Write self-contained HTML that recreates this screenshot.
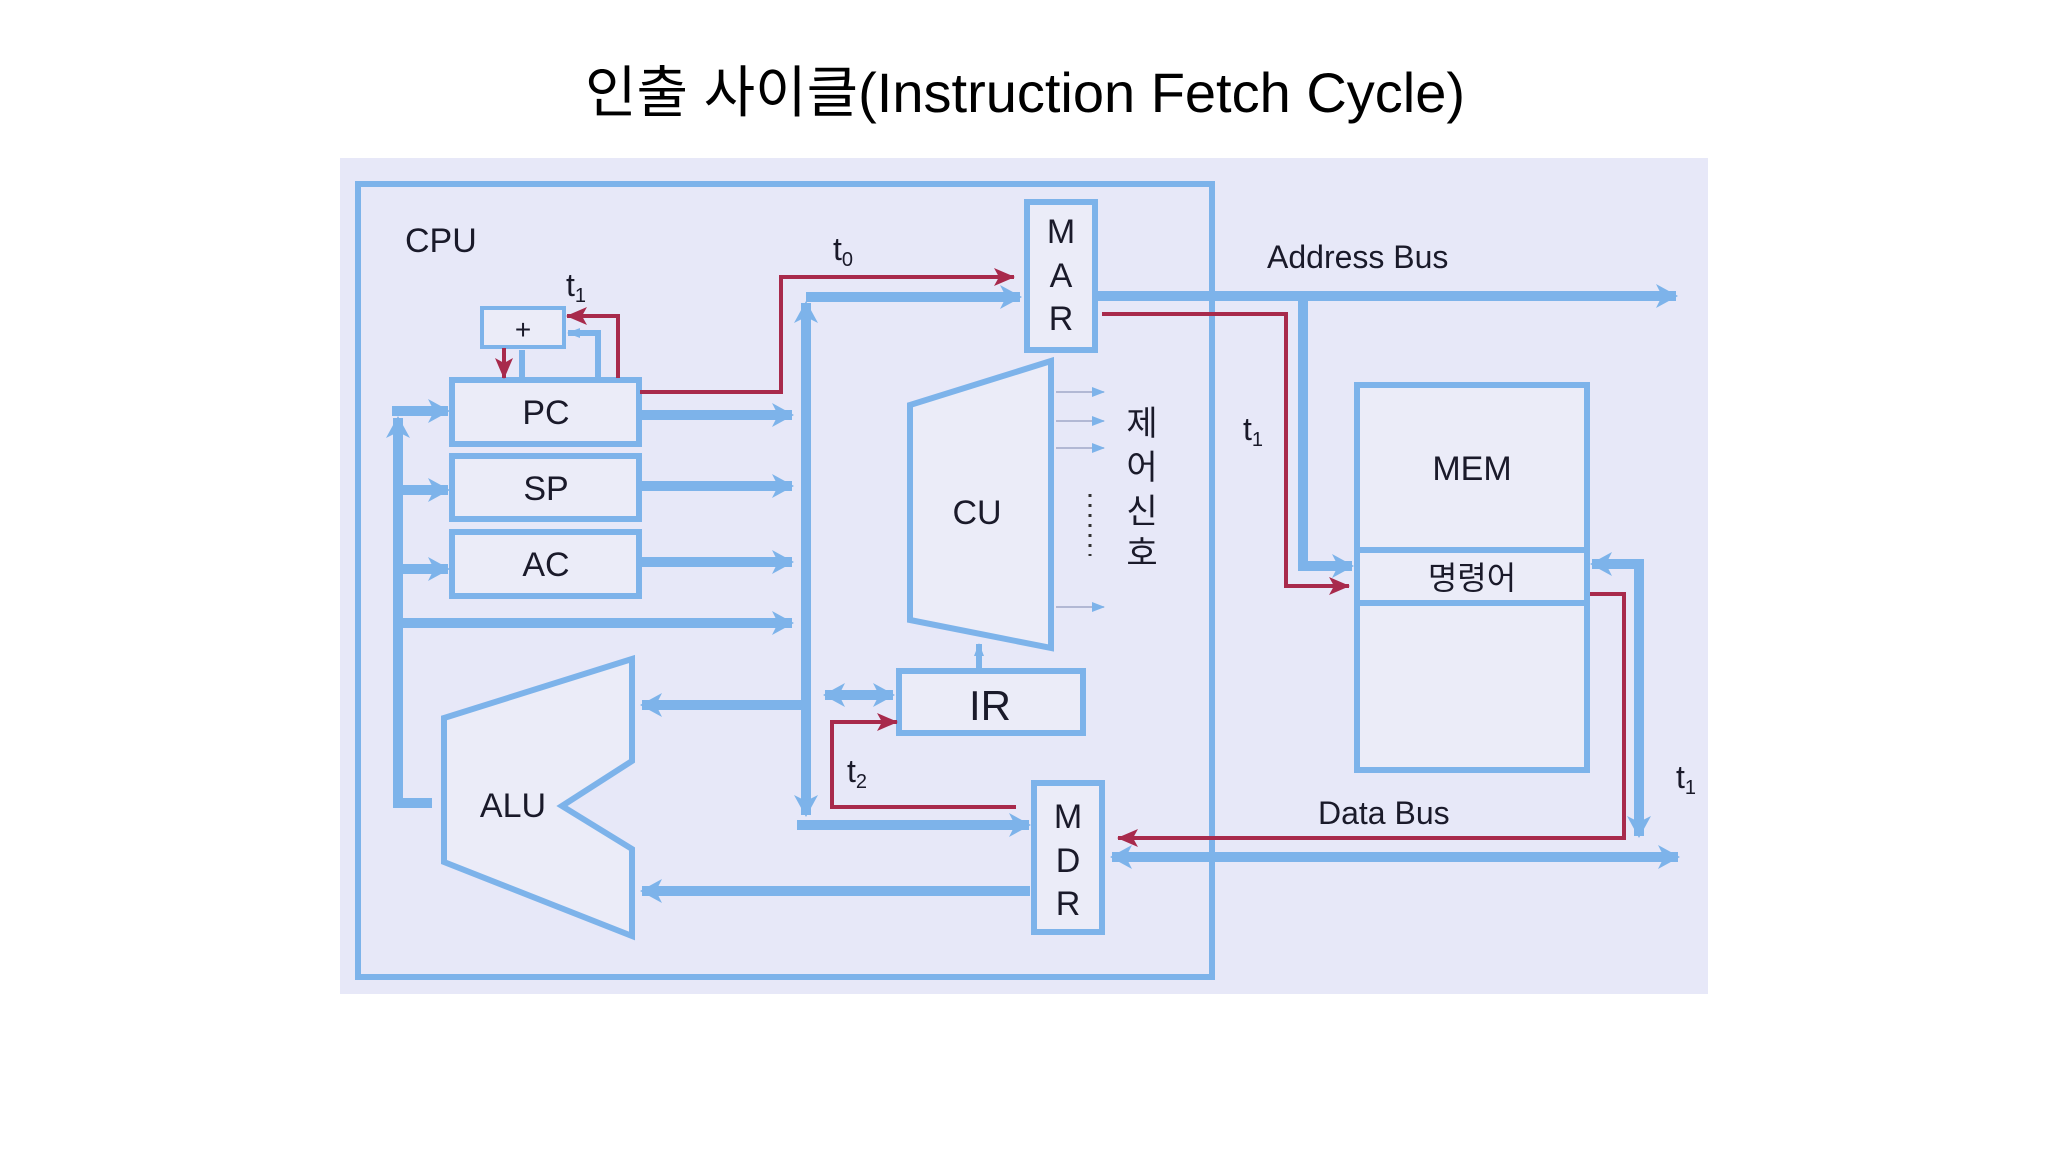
<!DOCTYPE html>
<html><head><meta charset="utf-8"><style>
html,body{margin:0;padding:0;background:#fff;}
svg{display:block}
text{font-family:"Liberation Sans","Noto Sans CJK KR",sans-serif;fill:#1a1a2a}
</style></head><body>
<svg width="2048" height="1152" viewBox="0 0 2048 1152" xmlns="http://www.w3.org/2000/svg">
<defs>
<marker id="ab" markerUnits="userSpaceOnUse" markerWidth="24" markerHeight="26" refX="20" refY="13" orient="auto-start-reverse"><path d="M0,1 L22,13 L0,25 L6,13 Z" fill="#7db3ea"/></marker>
<marker id="as" markerUnits="userSpaceOnUse" markerWidth="14" markerHeight="14" refX="12" refY="7" orient="auto"><path d="M0,2 L13,7 L0,12 Z" fill="#7db3ea"/></marker>
<marker id="ar" markerUnits="userSpaceOnUse" markerWidth="22" markerHeight="20" refX="20" refY="10" orient="auto"><path d="M0,1 L21,10 L0,19 L5,10 Z" fill="#a82a4c"/></marker>
</defs>
<text x="1025" y="112" font-size="56" text-anchor="middle" style="fill:#000">인출 사이클(Instruction Fetch Cycle)</text>
<rect x="340" y="158" width="1368" height="836" fill="#e7e8f8"/>
<rect x="358" y="184" width="854" height="793" fill="none" stroke="#7db3ea" stroke-width="6"/>
<text x="405" y="252" font-size="34">CPU</text>
<g fill="#ebecf8" stroke="#7db3ea" stroke-width="6">
<rect x="1027" y="202" width="68" height="148"/>
<rect x="1034" y="783" width="68" height="149"/>
<rect x="452" y="380" width="187" height="64"/>
<rect x="452" y="456" width="187" height="63"/>
<rect x="452" y="532" width="187" height="64"/>
<rect x="482" y="308" width="82" height="39" stroke-width="4"/>
<path d="M910,405 L1051,361 L1051,648 L910,620 Z"/>
<rect x="899" y="671" width="184" height="62"/>
<path d="M444,718 L632,659 L632,761 L562,806 L632,849 L632,936 L444,862 Z"/>
<rect x="1357" y="385" width="230" height="385"/>
<rect x="1357" y="550" width="230" height="53"/>
</g>
<g stroke="#7db3ea" stroke-width="10" fill="none">
<line x1="806" y1="303" x2="806" y2="815" marker-start="url(#ab)" marker-end="url(#ab)"/>
<line x1="806" y1="297" x2="1020" y2="297" marker-end="url(#ab)"/>
<line x1="1097" y1="296" x2="1676" y2="296" marker-end="url(#ab)"/>
<polyline points="1303,296 1303,566 1352,566" marker-end="url(#ab)"/>
<line x1="1112" y1="857" x2="1678" y2="857" marker-start="url(#ab)" marker-end="url(#ab)"/>
<polyline points="1592,564 1639,564 1639,836" marker-start="url(#ab)" marker-end="url(#ab)"/>
<line x1="640" y1="415" x2="792" y2="415" marker-end="url(#ab)"/>
<line x1="640" y1="486" x2="792" y2="486" marker-end="url(#ab)"/>
<line x1="640" y1="562" x2="792" y2="562" marker-end="url(#ab)"/>
<line x1="398" y1="623" x2="792" y2="623" marker-end="url(#ab)"/>
<polyline points="432,803 398,803 398,418" marker-end="url(#ab)"/>
<line x1="392" y1="411" x2="448" y2="411" marker-end="url(#ab)"/>
<line x1="398" y1="490" x2="448" y2="490" marker-end="url(#ab)"/>
<line x1="398" y1="569" x2="448" y2="569" marker-end="url(#ab)"/>
<line x1="806" y1="705" x2="642" y2="705" marker-end="url(#ab)"/>
<line x1="825" y1="695" x2="893" y2="695" marker-start="url(#ab)" marker-end="url(#ab)"/>
<line x1="797" y1="825" x2="1029" y2="825" marker-end="url(#ab)"/>
<line x1="1030" y1="891" x2="642" y2="891" marker-end="url(#ab)"/>
<line x1="979" y1="668" x2="979" y2="644" stroke-width="6" marker-end="url(#as)"/>
<polyline points="598,378 598,333 568,333" stroke-width="6" marker-end="url(#as)"/>
<line x1="522" y1="350" x2="522" y2="378" stroke-width="6"/>
</g>
<g stroke="#a0a8c8" stroke-width="1.5">
<line x1="1056" y1="392" x2="1104" y2="392" marker-end="url(#as)"/>
<line x1="1056" y1="421" x2="1104" y2="421" marker-end="url(#as)"/>
<line x1="1056" y1="448" x2="1104" y2="448" marker-end="url(#as)"/>
<line x1="1056" y1="607" x2="1104" y2="607" marker-end="url(#as)"/>
<line x1="1090" y1="494" x2="1090" y2="556" stroke="#333" stroke-width="3" stroke-dasharray="3,7"/>
</g>
<g stroke="#a82a4c" stroke-width="4" fill="none">
<polyline points="640,392 781,392 781,277 1014,277" marker-end="url(#ar)"/>
<polyline points="618,378 618,316 567,316" marker-end="url(#ar)"/>
<line x1="504" y1="348" x2="504" y2="378" marker-end="url(#ar)"/>
<polyline points="1102,314 1286,314 1286,586 1349,586" marker-end="url(#ar)"/>
<polyline points="1590,594 1624,594 1624,838 1118,838" marker-end="url(#ar)"/>
<polyline points="1016,807 832,807 832,722 897,722" marker-end="url(#ar)"/>
</g>
<g font-size="34" text-anchor="middle">
<text x="1061" y="243">M</text><text x="1061" y="287">A</text><text x="1061" y="330">R</text>
<text x="1068" y="828">M</text><text x="1068" y="872">D</text><text x="1068" y="915">R</text>
<text x="546" y="424">PC</text><text x="546" y="500">SP</text><text x="546" y="576">AC</text>
<text x="523" y="339" font-size="28">+</text>
<text x="977" y="524">CU</text>
<text x="990" y="720" font-size="42">IR</text>
<text x="513" y="817">ALU</text>
<text x="1472" y="480">MEM</text>
<text x="1472" y="589" font-size="32">명령어</text>
<text x="1142" y="435" font-size="34">제</text><text x="1142" y="479" font-size="34">어</text>
<text x="1142" y="523" font-size="34">신</text><text x="1142" y="565" font-size="34">호</text>
</g>
<g font-size="32">
<text x="1267" y="268">Address Bus</text>
<text x="1318" y="824">Data Bus</text>
<text x="833" y="260">t<tspan font-size="20" dy="6">0</tspan></text>
<text x="566" y="296">t<tspan font-size="20" dy="6">1</tspan></text>
<text x="1243" y="440">t<tspan font-size="20" dy="6">1</tspan></text>
<text x="1676" y="788">t<tspan font-size="20" dy="6">1</tspan></text>
<text x="847" y="782">t<tspan font-size="20" dy="6">2</tspan></text>
</g>
</svg>
</body></html>
